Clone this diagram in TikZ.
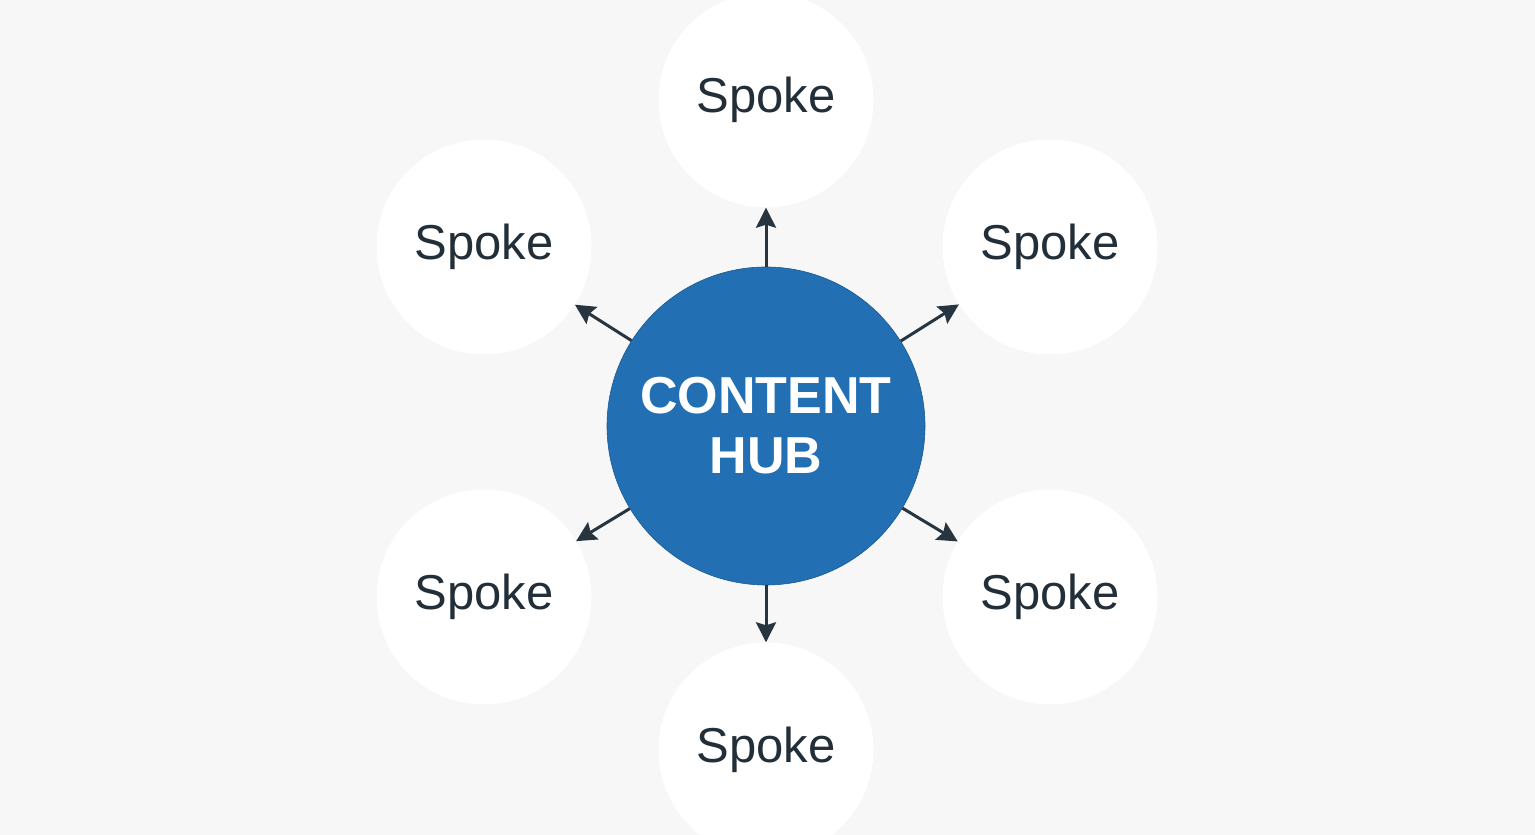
\documentclass[tikz,border=0pt]{standalone}
\usepackage{fontspec}
\setmainfont{Liberation Sans}
\usetikzlibrary{arrows.meta}
\definecolor{pagebg}{HTML}{F7F7F8}
\definecolor{hubcolor}{HTML}{2270B3}
\definecolor{spokebg}{HTML}{FFFFFF}
\definecolor{spoketext}{HTML}{222E38}
\definecolor{arrowcolor}{HTML}{263540}
\tikzset{
  hub/.style={circle, fill=hubcolor, draw=hubcolor!80!black, line width=0.6pt,
    minimum size=318pt, inner sep=0pt, align=center, text=white,
    font=\bfseries\fontsize{52}{60}\selectfont},
  spoke/.style={circle, fill=spokebg, minimum size=215pt, inner sep=0pt,
    text=spoketext, font=\fontsize{49}{56}\selectfont},
  link/.style={arrowcolor, line width=3pt, -{Stealth[length=20pt,width=20pt,inset=3pt]}}
}
\begin{document}
\begin{tikzpicture}[x=1pt,y=1pt]
  % Background
  \fill[pagebg] (0,0) rectangle (1535,835);
  \useasboundingbox (0,0) rectangle (1535,835);

  % Spokes
  \node[spoke] (top) at (766,735) {Spoke};
  \node[spoke] (topleft) at (484,588) {Spoke};
  \node[spoke] (topright) at (1050,588) {Spoke};
  \node[spoke] (botleft) at (484,238) {Spoke};
  \node[spoke] (botright) at (1050,238) {Spoke};
  \node[spoke] (bottom) at (766,85) {Spoke};

  % Hub
  \node[hub] (hub) at (766,409) {CONTENT\\HUB};

  % Arrows from hub to spokes
  \foreach \s in {top,topleft,topright,botleft,botright,bottom} {
    \draw[link] (hub) -- (\s);
  }
\end{tikzpicture}
\end{document}
